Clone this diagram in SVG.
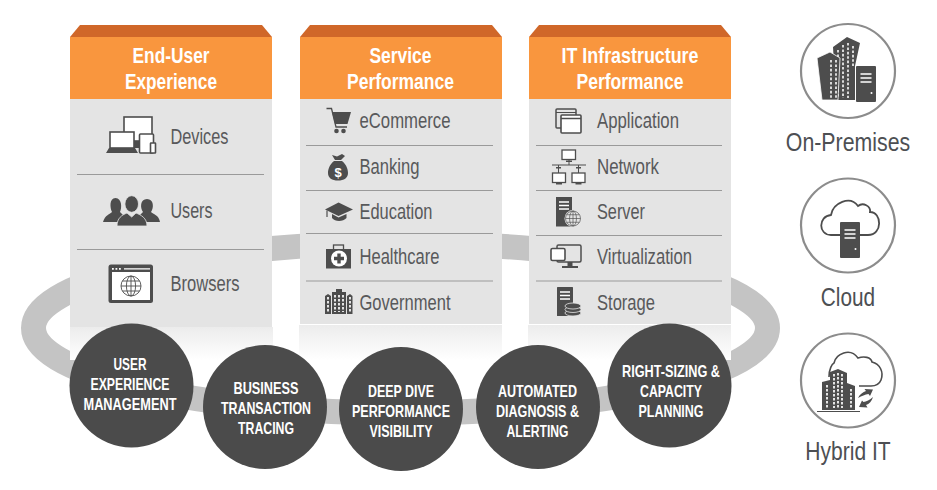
<svg xmlns="http://www.w3.org/2000/svg" width="937" height="490" viewBox="0 0 937 490">
<style>
text{font-family:"Liberation Sans",Arial,sans-serif}
.h{font-size:22px;font-weight:700;fill:#fff;text-anchor:middle}
.i{font-size:21.5px;fill:#58595b}
.c{font-size:16.5px;font-weight:700;fill:#fff;text-anchor:middle}
.p{font-size:26px;fill:#4d4f53;text-anchor:middle}
.cap{fill:#d06729}.org{fill:#f9963e}.gray{fill:#e4e4e4}
.div{stroke:#9a9a9a;stroke-width:1}
.d{fill:#4d4d4d}.w{fill:#fff}
.ol{fill:#fff;stroke:#4d4d4d;stroke-width:1.6}
.wl{fill:none;stroke:#fff;stroke-width:1.4}
.bub{fill:#4b4b4b}
.rc{fill:#fff;stroke:#8c8c8c;stroke-width:2.2}
.win{fill:none;stroke:#e4e4e4;stroke-width:2;stroke-dasharray:2.4 1.6}
.winw{fill:none;stroke:#d8d8d8;stroke-width:2;stroke-dasharray:2.6 1.8}
</style>
<defs>
<linearGradient id="fade" x1="0" y1="0" x2="0" y2="1"><stop offset="0" stop-color="#ececec"/><stop offset="1" stop-color="#fff"/></linearGradient>
<g id="globe" fill="none" stroke="#4d4d4d" stroke-width="0.9"><circle r="10"/><ellipse rx="4.6" ry="10"/><path d="M0-10V10M-10 0H10M-8.6-5H8.6M-8.6 5H8.6"/></g>
<g id="srv"><rect width="20" height="36" rx="1" class="d"/><path d="M4.500 8H15.500M4.500 12H15.500M4.500 16H15.500" class="wl"/><circle cx="15.500" cy="27" r="1" class="w"/></g>
</defs>

<g id="connectors"><ellipse cx="400.500" cy="328" rx="367" ry="85" fill="none" stroke="#c4c4c4" stroke-width="25"/></g>

<g id="col-end-user">
<path class="cap" d="M80 25H262L272 37H70Z"/><rect class="org" x="70" y="37" width="202" height="62"/><rect class="gray" x="70" y="99" width="202" height="228"/><rect fill="url(#fade)" x="70" y="327" width="203" height="33"/>
<text class="h" x="171" y="63" textLength="77" lengthAdjust="spacingAndGlyphs">End-User</text>
<text class="h" x="171" y="89" textLength="92" lengthAdjust="spacingAndGlyphs">Experience</text>
<path class="div" d="M77 174.500H264M77 249.500H264"/>
<g id="devices">
<rect class="ol" x="124" y="117" width="28" height="24"/>
<rect class="ol" x="110" y="132" width="24" height="16"/><path class="d" d="M109 148H135L138 153H106Z"/>
<rect class="d" x="134" y="141" width="6" height="7"/>
<rect class="ol" x="139.500" y="134" width="14" height="19" rx="1"/><rect class="ol" x="150.500" y="143" width="5" height="10" rx="0.500"/>
<text class="i" x="170.500" y="144" textLength="58" lengthAdjust="spacingAndGlyphs">Devices</text></g>
<g id="users">
<path class="d" d="M103 222C105 215 110 214 112 212C110 208 109 198 115.500 198C122 198 122 208 120 212L124 216L118 222Z"/>
<path class="d" d="M160 222C159 215 153 214 151 212C154 208 154 199 147 199C140 199 140 208 143 212L139 216L143 222Z"/>
<ellipse class="d" cx="131.700" cy="204" rx="6.800" ry="8.300" stroke="#e4e4e4" stroke-width="0.800"/>
<path class="d" d="M117 226C117 218 122 215 127 213L131.700 217L136 213C141 215 147 218 147 226Z" stroke="#e4e4e4" stroke-width="0.800"/>
<text class="i" x="170.500" y="218" textLength="42" lengthAdjust="spacingAndGlyphs">Users</text></g>
<g id="browsers">
<rect class="d" x="108.500" y="264.500" width="44.500" height="38.500" rx="2.500"/><rect class="w" x="112" y="272" width="38" height="28"/>
<path class="w" d="M112 268h1.800v1.800H112zM115.500 268h1.800v1.800h-1.800zM119 268h1.800v1.800H119zM124 268.300h26v1.200h-26z"/>
<use href="#globe" x="131" y="286"/>
<text class="i" x="170.500" y="291" textLength="69" lengthAdjust="spacingAndGlyphs">Browsers</text></g>
</g>

<g id="col-service">
<path class="cap" d="M310 25H492L502 37H300Z"/><rect class="org" x="300" y="37" width="202" height="62"/><rect class="gray" x="300" y="99" width="202" height="225"/><rect fill="url(#fade)" x="299" y="325" width="203" height="35"/>
<text class="h" x="400.500" y="63" textLength="62" lengthAdjust="spacingAndGlyphs">Service</text>
<text class="h" x="400.500" y="89" textLength="107" lengthAdjust="spacingAndGlyphs">Performance</text>
<path class="div" d="M306 145.500H493M306 190.500H493M306 233.500H493M306 281H493"/>
<g id="ecommerce">
<path d="M326.500 108.500H331.500L336 127H347" fill="none" stroke="#4d4d4d" stroke-width="1.300"/>
<path class="d" d="M332 112H351L347.500 124H335Z"/><circle class="d" cx="336.500" cy="131" r="2.300"/><circle class="d" cx="343.500" cy="131" r="2.300"/>
<text class="i" x="359.500" y="128" textLength="91" lengthAdjust="spacingAndGlyphs">eCommerce</text></g>
<g id="banking">
<path class="d" d="M334 161C329 165 328 170 328 173C328 178 332 180.500 338 180.500C344 180.500 348 178 348 173C348 170 347 165 342 161ZM332 155L337 156.500L342 154L345 156L341 160H335Z"/>
<text x="338" y="176.500" text-anchor="middle" style="font-size:13px;font-weight:700;fill:#fff">$</text>
<text class="i" x="359.500" y="174" textLength="60" lengthAdjust="spacingAndGlyphs">Banking</text></g>
<g id="education">
<path class="d" d="M325 209.500L338.500 202.500L353 209.500L338.500 216Z"/><path class="d" d="M332 214L338.500 217.500L346.500 214V218C343 222 335 222 332 218Z"/>
<path d="M327 210.500V217" stroke="#4d4d4d" stroke-width="1.200"/>
<text class="i" x="359.500" y="219" textLength="73" lengthAdjust="spacingAndGlyphs">Education</text></g>
<g id="healthcare">
<rect class="d" x="326" y="249" width="25" height="19.500"/><rect x="333.500" y="245" width="10" height="5" fill="none" stroke="#4d4d4d" stroke-width="1.300"/>
<circle class="w" cx="339" cy="258.500" r="8"/><path class="d" d="M337.300 253.500h3.400v3.300h3.300v3.400h-3.300v3.300h-3.400v-3.300H334v-3.400h3.300z"/>
<text class="i" x="359.500" y="264" textLength="80" lengthAdjust="spacingAndGlyphs">Healthcare</text></g>
<g id="government">
<path class="d" d="M325 296L328 294L331 296V314H325ZM347 296L350 294L352.500 296V314H347ZM332 292H336V289H342V292H346V314H332Z"/>
<path class="win" d="M335 295V312M339 295V312M343 295V312M328 297V312M350 297V312"/>
<text class="i" x="359.500" y="310" textLength="91" lengthAdjust="spacingAndGlyphs">Government</text></g>
</g>

<g id="col-infrastructure">
<path class="cap" d="M539 25H721L731 37H529Z"/><rect class="org" x="529" y="37" width="202" height="62"/><rect class="gray" x="529" y="99" width="202" height="225"/><rect fill="url(#fade)" x="528" y="325" width="203" height="35"/>
<text class="h" x="630" y="63" textLength="137" lengthAdjust="spacingAndGlyphs">IT Infrastructure</text>
<text class="h" x="630" y="89" textLength="107" lengthAdjust="spacingAndGlyphs">Performance</text>
<path class="div" d="M536 145.500H722M536 190.500H722M536 235.500H722M536 281H722"/>
<g id="application">
<rect x="556" y="109" width="20" height="19" rx="1" fill="#e4e4e4" stroke="#4d4d4d" stroke-width="1.500"/><path d="M556 112.500H576" stroke="#4d4d4d" stroke-width="1"/>
<rect class="ol" x="561" y="115" width="20" height="18" rx="1"/><path d="M561 118.500H581" stroke="#4d4d4d" stroke-width="1.500"/>
<text class="i" x="597" y="128" textLength="82" lengthAdjust="spacingAndGlyphs">Application</text></g>
<g id="network">
<g fill="#fff" stroke="#4d4d4d" stroke-width="1.300"><rect x="562" y="150" width="13.500" height="9.500"/><rect x="552.500" y="173" width="13" height="9.500"/><rect x="572" y="173" width="13" height="9.500"/></g>
<path d="M552 165H586M569 160V165M558.500 165V173M578.500 165V173" stroke="#4d4d4d" stroke-width="1" fill="none"/>
<path class="d" d="M566 160.500h6v1.500h-6zM556 167h5v1.500h-5zM576 167h5v1.500h-5zM556 183h6v1.500h-6zM575.500 183h6v1.500h-6z"/>
<text class="i" x="597" y="174" textLength="62" lengthAdjust="spacingAndGlyphs">Network</text></g>
<g id="server">
<rect class="d" x="556" y="197" width="16" height="29.500"/>
<path class="wl" d="M559 202H569M559 205.500H569M559 209H569"/>
<circle cx="573" cy="218.500" r="8.500" fill="#e4e4e4"/><g transform="translate(573 218.500) scale(.75)"><use href="#globe"/></g>
<text class="i" x="597" y="219" textLength="48" lengthAdjust="spacingAndGlyphs">Server</text></g>
<g id="virtualization">
<rect x="557" y="245" width="24" height="17" rx="1.500" fill="#e4e4e4" stroke="#4d4d4d" stroke-width="1.500"/><rect x="551" y="248.500" width="14" height="12" rx="1.500" class="ol"/>
<path class="d" d="M567.500 262h5v4h-5zM562 266h16v2h-16z"/>
<text class="i" x="597" y="264" textLength="95" lengthAdjust="spacingAndGlyphs">Virtualization</text></g>
<g id="storage">
<rect class="d" x="557" y="287" width="16" height="29" rx="0.500"/><path class="wl" d="M560 292H570M560 295.500H570M560 299H570"/>
<g fill="#4d4d4d" stroke="#e4e4e4" stroke-width="0.800"><ellipse cx="573" cy="313" rx="8" ry="3"/><ellipse cx="573" cy="309.500" rx="8" ry="3"/><ellipse cx="573" cy="306" rx="8" ry="3"/></g>
<text class="i" x="597" y="310" textLength="58" lengthAdjust="spacingAndGlyphs">Storage</text></g>
</g>

<g id="cap-user-experience"><circle class="bub" cx="131.500" cy="385.500" r="62"/>
<text class="c" x="130" y="370" textLength="33" lengthAdjust="spacingAndGlyphs">USER</text><text class="c" x="130" y="390" textLength="79" lengthAdjust="spacingAndGlyphs">EXPERIENCE</text><text class="c" x="130" y="410" textLength="93" lengthAdjust="spacingAndGlyphs">MANAGEMENT</text></g>
<g id="cap-transaction"><circle class="bub" cx="265" cy="407" r="62"/>
<text class="c" x="266" y="394" textLength="65" lengthAdjust="spacingAndGlyphs">BUSINESS</text><text class="c" x="266" y="414" textLength="90" lengthAdjust="spacingAndGlyphs">TRANSACTION</text><text class="c" x="266" y="434" textLength="56" lengthAdjust="spacingAndGlyphs">TRACING</text></g>
<g id="cap-deep-dive"><circle class="bub" cx="401" cy="409" r="62"/>
<text class="c" x="401" y="397" textLength="66" lengthAdjust="spacingAndGlyphs">DEEP DIVE</text><text class="c" x="401" y="417" textLength="98" lengthAdjust="spacingAndGlyphs">PERFORMANCE</text><text class="c" x="401" y="437" textLength="63" lengthAdjust="spacingAndGlyphs">VISIBILITY</text></g>
<g id="cap-diagnosis"><circle class="bub" cx="538" cy="407" r="62"/>
<text class="c" x="537.500" y="397" textLength="79" lengthAdjust="spacingAndGlyphs">AUTOMATED</text><text class="c" x="537.500" y="417" textLength="83" lengthAdjust="spacingAndGlyphs">DIAGNOSIS &amp;</text><text class="c" x="537.500" y="437" textLength="62" lengthAdjust="spacingAndGlyphs">ALERTING</text></g>
<g id="cap-sizing"><circle class="bub" cx="669.500" cy="385.500" r="62"/>
<text class="c" x="671" y="377" textLength="98" lengthAdjust="spacingAndGlyphs">RIGHT-SIZING &amp;</text><text class="c" x="671" y="397" textLength="62" lengthAdjust="spacingAndGlyphs">CAPACITY</text><text class="c" x="671" y="417" textLength="65" lengthAdjust="spacingAndGlyphs">PLANNING</text></g>

<g id="on-premises"><circle class="rc" cx="848" cy="71" r="47"/>
<path class="d" d="M833 47L847 37L860 43L855 66V100H836Z"/>
<path class="winw" d="M838 50V98M843 45V98M848 43V98M853 46V66"/>
<path d="M817 58L830 52L840 58L838 100H822Z" class="d" stroke="#fff" stroke-width="0.800"/>
<path class="winw" d="M831 60V98M836 60V98"/>
<use href="#srv" transform="translate(856 66)"/>
<text class="p" transform="translate(848 151) scale(.82 1)">On-Premises</text></g>
<g id="cloud"><circle class="rc" cx="848" cy="225.500" r="47"/>
<path d="M840 235H831C818 235 818 216 831 215C833 203 850 195 858 206C863 202 871 206 870 212C882 212 883 235 868 235H860" fill="none" stroke="#4d4d4d" stroke-width="1.800"/>
<use href="#srv" transform="translate(840 222)"/>
<text class="p" transform="translate(848 306) scale(.8 1)">Cloud</text></g>
<g id="hybrid-it"><circle class="rc" cx="848" cy="380.500" r="47"/>
<path d="M829 377C829 369 832 364 834 363C836 354 850 347 858 358C864 356 871 357 872 362C880 364 884 372 881 380C879 385 875 386 871 386H859" fill="none" stroke="#4d4d4d" stroke-width="1.600"/>
<path d="M822 382L830 380V372L838 369L847 373V383L855 386V410H822Z" class="d"/>
<path class="win" d="M834 374V408M838 373V408M842 374V408M827 385V408M851 389V408"/>
<path d="M817 411.500H860" stroke="#4d4d4d" stroke-width="1"/>
<path class="d" d="M858 398C860 394 863 392 866 391L864.500 389L873 389.500L870 396L868.500 394C865 394.500 862 396 858 398ZM873 397C872 401 869 404 866 405L867.500 407.500L859 407L862 400.500L863.500 402C866 401.500 870 400 873 397Z"/>
<text class="p" transform="translate(848 460) scale(.81 1)">Hybrid IT</text></g>
</svg>
